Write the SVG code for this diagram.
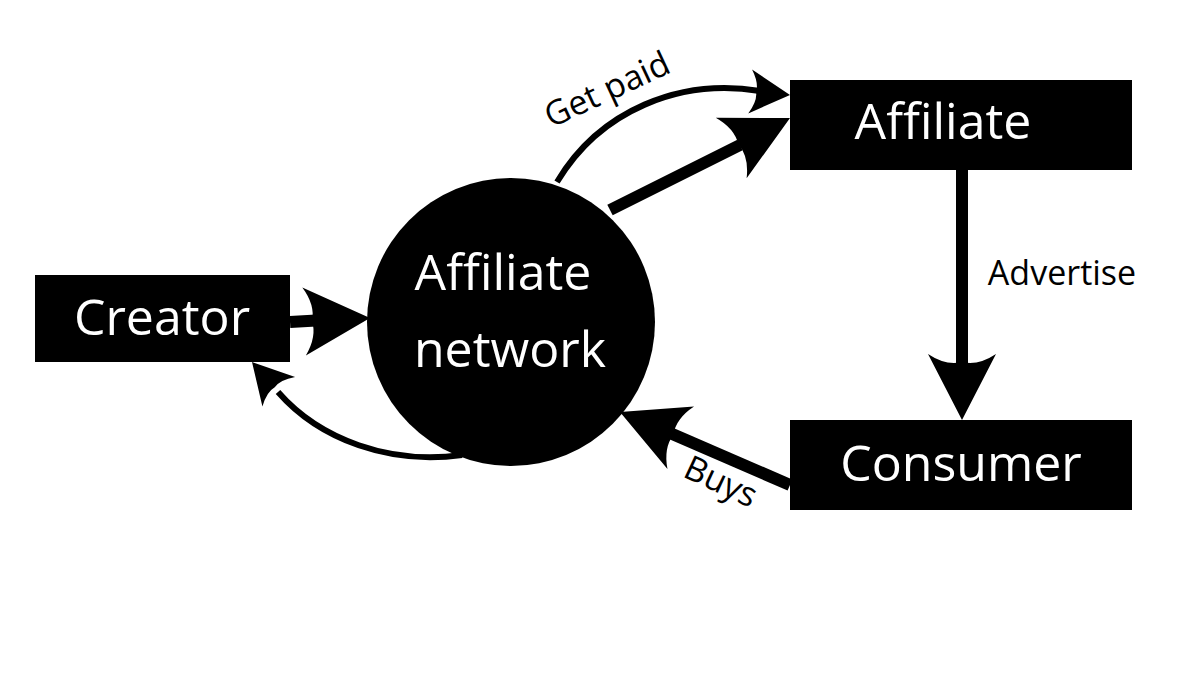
<svg xmlns="http://www.w3.org/2000/svg" width="1200" height="675" viewBox="0 0 1200 675">
<style>
.n{fill:#000}
.t{fill:#fff;font-family:"Open Sans",sans-serif;font-size:50px;text-anchor:middle}
.l{fill:#000;font-family:"Open Sans",sans-serif;font-size:34px;text-anchor:middle}
.c{fill:none;stroke:#000}
</style>
<defs>
<path id="big" d="M0,0 L-66,-34 Q-54,-16 -58,0 Q-54,16 -66,34 Z"/>
<path id="sm" d="M0,0 L-40,-22 Q-32,-9 -34,0 Q-32,9 -40,22 Z"/>
</defs>
<rect width="1200" height="675" fill="#fff"/>
<g id="connectors">
<path class="c" stroke-width="12" d="M290,322 L325,320"/>
<use href="#big" transform="translate(370,318) rotate(-3)"/>
<path class="c" stroke-width="12" d="M610,210 L740,145"/>
<use href="#big" transform="translate(790,118) rotate(-27)"/>
<path class="c" stroke-width="6" d="M557,182 C600,110 680,78 760,91"/>
<use href="#sm" transform="translate(790,95) rotate(5)"/>
<path class="c" stroke-width="6" d="M462,455 C390,465 320,440 278,392"/>
<use href="#sm" transform="translate(252,362) rotate(-132)"/>
<path class="c" stroke-width="12" d="M962,170 L962,365"/>
<use href="#big" transform="translate(962,420) rotate(90)"/>
<path class="c" stroke-width="12" d="M790,485 L670,433"/>
<use href="#big" transform="translate(620,412) rotate(203)"/>
<text class="l" transform="translate(612,100) rotate(-25)" font-size="36">Get paid</text>
<text class="l" x="1062" y="285">Advertise</text>
<text class="l" transform="translate(716,492) rotate(25)">Buys</text>
</g>
<g id="creator"><rect class="n" x="35" y="275" width="255" height="87"/><text class="t" x="162" y="335">Creator</text></g>
<g id="network"><circle class="n" cx="511" cy="322" r="144"/><text class="t" x="503" y="290">Affiliate</text><text class="t" x="510" y="367">network</text></g>
<g id="affiliate"><rect class="n" x="790" y="80" width="342" height="90"/><text class="t" x="943" y="139">Affiliate</text></g>
<g id="consumer"><rect class="n" x="790" y="420" width="342" height="90"/><text class="t" x="961" y="481">Consumer</text></g>
</svg>
